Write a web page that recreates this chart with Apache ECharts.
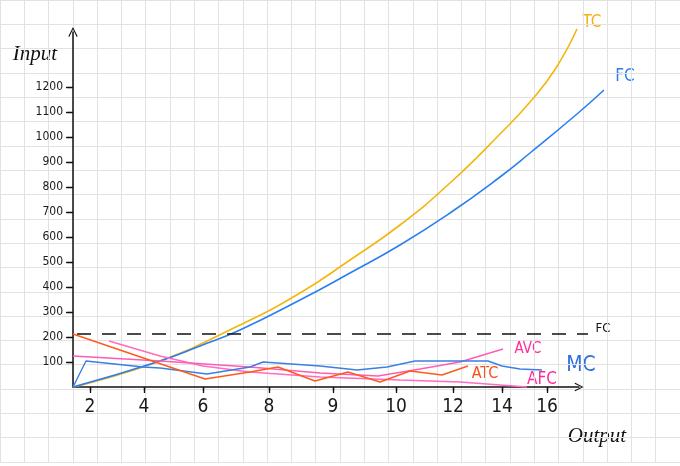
<!DOCTYPE html>
<html>
<head>
<meta charset="utf-8">
<script src="https://cdn.jsdelivr.net/npm/echarts@6/dist/echarts.min.js"></script>
<style>html,body{margin:0;padding:0;background:#fff}#c{width:680px;height:466px}</style>
</head>
<body>
<div id="c"></div>
<script>
// ---- data (x in drawn-axis units, y in Input units) ----
const xTickPos    = [1.7, 7.1, 13.0, 19.6, 26.0, 32.3, 38.0, 42.9, 47.4];
const xTickLabels = ['2', '4', '6', '8', '9', '10', '12', '14', '16'];
const yTickValues = [100, 200, 300, 400, 500, 600, 700, 800, 900, 1000, 1100, 1200];

const tcData  = [[0,0],[8.4,100],[16.7,248],[22.7,376],[27.7,508],[32.7,648],[37.7,816],[42.7,1012],[45.7,1140],[48.2,1270],[50.4,1432]];
const fcData  = [[0,0],[8.4,100],[12.7,164],[16.7,228],[22.7,348],[27.7,456],[32.7,568],[37.7,696],[42.7,840],[45.7,936],[50.4,1092],[53.1,1188]];
const fixedData = [[0.4,212],[51.5,212]];
const mcData  = [[0,0],[1.3,104],[7,80],[8.7,76],[13.4,52],[17.7,80],[19,100],[24.7,84],[28.4,68],[31.4,80],[34.2,104],[41.5,104],[42.9,84],[44.7,72],[46.9,68]];
const atcData = [[0,212],[13.2,32],[17.7,60],[20.5,80],[24.2,24],[27.5,60],[30.7,20],[33.7,64],[36.9,48],[39.5,84]];
const avcData = [[0,124],[8.7,104],[17.7,80],[24.7,56],[30.5,44],[34.7,72],[38.7,100],[43,152]];
const afcData = [[3.6,184],[8.7,124],[13,84],[17.7,60],[24.7,40],[32.7,28],[38.7,20],[45.4,0]];

const chart = echarts.init(document.getElementById('c'), null, {renderer: 'canvas'});
const tickFont = "'Liberation Sans Narrow','DejaVu Sans Condensed','Liberation Sans',sans-serif";
const chevron = 'path://M0,10 L5,0 L10,10 L9,10.8 L5,2.4 L1,10.8 Z';
const hidden = {axisLine: {show: false}, axisTick: {show: false}, axisLabel: {show: false}, splitLine: {show: false}};

function line(data, color, width, extra) {
  return Object.assign({
    type: 'line', data: data, xAxisIndex: 0, yAxisIndex: 0,
    showSymbol: false, symbol: 'none', clip: false, silent: true,
    lineStyle: {color: color, width: width}, z: 5
  }, extra || {});
}

chart.setOption({
  animation: false,
  backgroundColor: '#ffffff',
  grid: [
    {left: 73, right: 67, top: 32, bottom: 79},
    {left: -2, right: -18, top: -13, bottom: 4, z: 0},
    {left: 73, right: 101, top: 32, bottom: 79}
  ],
  xAxis: [
    Object.assign({type: 'value', gridIndex: 0, min: 0, max: 54}, hidden),
    {type: 'value', gridIndex: 1, min: 0, max: 28, interval: 1,
     axisLine: {show: false}, axisTick: {show: false}, axisLabel: {show: false},
     splitLine: {show: true, lineStyle: {color: '#e2e2e2', width: 1}}},
    {type: 'value', gridIndex: 2, min: 0, max: 50.6,
     axisLine: {show: true, lineStyle: {color: '#111', width: 1.5}, symbol: ['none', chevron], symbolSize: [10, 9]},
     axisTick: {show: true, inside: false, length: 4, customValues: xTickPos, lineStyle: {color: '#111', width: 1.3}},
     axisLabel: {show: true, customValues: xTickPos, margin: 11, fontSize: 19, color: '#1a1a1a', fontFamily: tickFont,
       formatter: function (v) { const i = xTickPos.findIndex(p => Math.abs(p - v) < 1e-6); return i >= 0 ? xTickLabels[i] : ''; }},
     splitLine: {show: false}},
    {type: 'value', gridIndex: 2, min: 0, max: 50.6,
     axisLine: {show: false},
     axisTick: {show: true, inside: true, length: 6, customValues: xTickPos, lineStyle: {color: '#111', width: 1.3}},
     axisLabel: {show: false}, splitLine: {show: false}}
  ],
  yAxis: [
    Object.assign({type: 'value', gridIndex: 0, min: 0, max: 1420}, hidden),
    {type: 'value', gridIndex: 1, min: 0, max: 19, interval: 1,
     axisLine: {show: false}, axisTick: {show: false}, axisLabel: {show: false},
     splitLine: {show: true, lineStyle: {color: '#e2e2e2', width: 1}}},
    {type: 'value', gridIndex: 2, min: 0, max: 1420,
     axisLine: {show: true, lineStyle: {color: '#111', width: 1.5}, symbol: ['none', chevron], symbolSize: [13, 10]},
     axisTick: {show: true, inside: false, length: 6, customValues: yTickValues, lineStyle: {color: '#111', width: 1.3}},
     axisLabel: {show: true, customValues: yTickValues, margin: 10, fontSize: 12, color: '#1a1a1a', fontFamily: tickFont, padding: [0, 0, 8, 0],
       formatter: function (v) { return String(v); }},
     splitLine: {show: false}},
    {type: 'value', gridIndex: 2, min: 0, max: 1420,
     axisLine: {show: false},
     axisTick: {show: true, inside: true, length: 7, customValues: yTickValues, lineStyle: {color: '#111', width: 1.3}},
     axisLabel: {show: false}, splitLine: {show: false}}
  ],
  series: [
    line(tcData, '#f4b60e', 1.6, {smooth: 0.5}),
    line(fcData, '#2a7ff0', 1.6, {smooth: 0.5}),
    line(fixedData, '#111111', 1.6, {lineStyle: {color: '#111', width: 1.7, type: [14, 11]}}),
    line(afcData, '#ff6cc0', 1.4),
    line(avcData, '#ff5cb6', 1.4),
    line(mcData, '#3b7fe3', 1.4),
    line(atcData, '#ff5a1c', 1.4)
  ],
  graphic: [
    {type: 'text', style: {text: 'TC', x: 592, y: 23, align: 'center', verticalAlign: 'middle', fontSize: 17, fontFamily: tickFont, fill: '#f2b21a'}},
    {type: 'text', style: {text: 'FC', x: 625, y: 77, align: 'center', verticalAlign: 'middle', fontSize: 17, fontFamily: tickFont, fill: '#2a7ff0'}},
    {type: 'text', style: {text: 'FC', x: 603, y: 329, align: 'center', verticalAlign: 'middle', fontSize: 13, fontFamily: tickFont, fill: '#111'}},
    {type: 'text', style: {text: 'AVC', x: 528, y: 349, align: 'center', verticalAlign: 'middle', fontSize: 15, fontFamily: tickFont, fill: '#ff2d9b'}},
    {type: 'text', style: {text: 'MC', x: 581, y: 366, align: 'center', verticalAlign: 'middle', fontSize: 21, fontFamily: tickFont, fill: '#2d6fdd'}},
    {type: 'text', style: {text: 'ATC', x: 485, y: 374, align: 'center', verticalAlign: 'middle', fontSize: 16, fontFamily: tickFont, fill: '#ff4d14'}},
    {type: 'text', style: {text: 'AFC', x: 542, y: 380, align: 'center', verticalAlign: 'middle', fontSize: 17, fontFamily: tickFont, fill: '#ff2d9b'}},
    {type: 'text', style: {text: 'Input', x: 35, y: 54, align: 'center', verticalAlign: 'middle', fontSize: 21, fontStyle: 'italic', fontFamily: "'Liberation Serif','DejaVu Serif',serif", fill: '#111'}},
    {type: 'text', style: {text: 'Output', x: 597, y: 436, align: 'center', verticalAlign: 'middle', fontSize: 21, fontStyle: 'italic', fontFamily: "'Liberation Serif','DejaVu Serif',serif", fill: '#111'}}
  ]
});
</script>
</body>
</html>
